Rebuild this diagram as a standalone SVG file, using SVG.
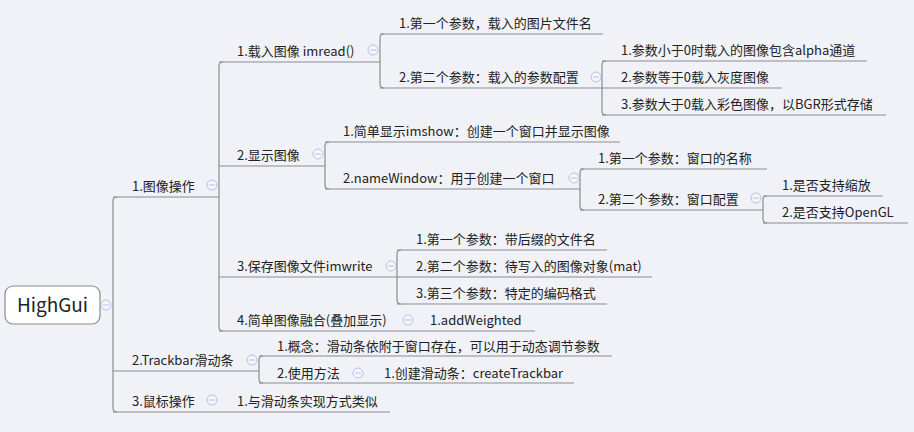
<svg xmlns="http://www.w3.org/2000/svg" width="914" height="432" viewBox="0 0 914 432">
<style>
text{font-family:"Microsoft YaHei","Noto Sans CJK SC","Noto Sans",sans-serif;font-size:13px;fill:#222}
.l{stroke:#8c8c8c;stroke-width:1.2;fill:none}
.c{fill:#f4f6fc;stroke:#b4c2e6;stroke-width:1}
.m{stroke:#b4c2e6;stroke-width:1}
</style>
<defs>
<g id="col"><circle class="c" r="5"/><line class="m" x1="-3" y1="0" x2="3" y2="0"/></g>
</defs>
<rect width="914" height="432" fill="#f0f2f8"/>
<g id="connectors">
<path class="l" d="M117,197 Q113,197 113,201 V408 Q113,412 117,412"/>
<path class="l" d="M113,197 H219 M113,371 H259 M113,412 H390"/>
<path class="l" d="M223,62 Q219,62 219,66 V327 Q219,331 223,331"/>
<path class="l" d="M219,62 H380 M219,166 H325 M219,277 H397 M219,331 H535"/>
<path class="l" d="M384,34 Q380,34 380,38 V84 Q380,88 384,88"/>
<path class="l" d="M380,34 H603 M380,88 H602"/>
<path class="l" d="M606,61 Q602,61 602,65 V111 Q602,115 606,115"/>
<path class="l" d="M602,61 H867 M602,88 H782 M602,115 H886"/>
<path class="l" d="M329,142 Q325,142 325,146 V185 Q325,189 329,189"/>
<path class="l" d="M325,142 H620 M325,189 H580"/>
<path class="l" d="M584,169 Q580,169 580,173 V206 Q580,210 584,210"/>
<path class="l" d="M580,169 H767 M580,210 H763"/>
<path class="l" d="M767,196 Q763,196 763,200 V219 Q763,223 767,223"/>
<path class="l" d="M763,196 H883 M763,223 H908"/>
<path class="l" d="M401,250 Q397,250 397,254 V300 Q397,304 401,304"/>
<path class="l" d="M397,250 H607 M397,277 H652 M397,304 H607"/>
<path class="l" d="M263,356 Q259,356 259,360 V379 Q259,383 263,383"/>
<path class="l" d="M259,356 H612 M259,383 H574"/>
</g>
<g id="root"><rect x="5" y="286" width="95" height="38" rx="8" fill="#fff" stroke="#8c8c8c" stroke-width="1.2"/><text x="52.5" y="312" text-anchor="middle" style="font-size:19px">HighGui</text><use href="#col" x="106" y="305"/></g>
<g id="n1"><text x="132" y="191">1.图像操作</text><use href="#col" x="212" y="185"/></g>
<g id="n2"><text x="132" y="365">2.Trackbar滑动条</text><use href="#col" x="252" y="360"/></g>
<g id="n3"><text x="132" y="406">3.鼠标操作</text><use href="#col" x="212" y="400"/></g>
<g id="n31"><text x="237" y="406">1.与滑动条实现方式类似</text></g>
<g id="n11"><text x="237" y="56">1.载入图像 imread()</text><use href="#col" x="373" y="50"/></g>
<g id="n111"><text x="399" y="28">1.第一个参数，载入的图片文件名</text></g>
<g id="n112"><text x="399" y="82">2.第二个参数：载入的参数配置</text><use href="#col" x="596" y="77"/></g>
<g id="n1121"><text x="621" y="55">1.参数小于0时载入的图像包含alpha通道</text></g>
<g id="n1122"><text x="621" y="82">2.参数等于0载入灰度图像</text></g>
<g id="n1123"><text x="621" y="109">3.参数大于0载入彩色图像，以BGR形式存储</text></g>
<g id="n12"><text x="237" y="160">2.显示图像</text><use href="#col" x="318" y="154"/></g>
<g id="n121"><text x="343" y="136">1.简单显示imshow：创建一个窗口并显示图像</text></g>
<g id="n122"><text x="343" y="183">2.nameWindow：用于创建一个窗口</text><use href="#col" x="574" y="178"/></g>
<g id="n1221"><text x="598" y="163">1.第一个参数：窗口的名称</text></g>
<g id="n1222"><text x="598" y="204">2.第二个参数：窗口配置</text><use href="#col" x="756" y="198"/></g>
<g id="n12221"><text x="782" y="190">1.是否支持缩放</text></g>
<g id="n12222"><text x="782" y="217">2.是否支持OpenGL</text></g>
<g id="n13"><text x="237" y="271">3.保存图像文件imwrite</text><use href="#col" x="391" y="266"/></g>
<g id="n131"><text x="416" y="244">1.第一个参数：带后缀的文件名</text></g>
<g id="n132"><text x="416" y="271">2.第二个参数：待写入的图像对象(mat)</text></g>
<g id="n133"><text x="416" y="298">3.第三个参数：特定的编码格式</text></g>
<g id="n14"><text x="237" y="325">4.简单图像融合(叠加显示)</text><use href="#col" x="408" y="320"/></g>
<g id="n141"><text x="430" y="325">1.addWeighted</text></g>
<g id="n21"><text x="277" y="351">1.概念：滑动条依附于窗口存在，可以用于动态调节参数</text></g>
<g id="n22"><text x="277" y="378">2.使用方法</text><use href="#col" x="358" y="373"/></g>
<g id="n221"><text x="384" y="378">1.创建滑动条：createTrackbar</text></g>
</svg>
